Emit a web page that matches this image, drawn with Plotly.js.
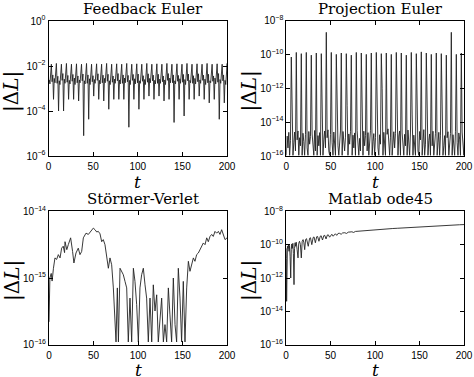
<!DOCTYPE html>
<html>
<head>
<meta charset="utf-8">
<script src="https://cdn.plot.ly/plotly-3.0.1.min.js"></script>
<style>html,body{margin:0;padding:0;background:#fff;}#chart{width:474px;height:377px;}</style>
</head>
<body>
<div id="chart"></div>
<script>
// ---- Data ----
const titles = ["Feedback Euler", "Projection Euler", "Störmer-Verlet", "Matlab ode45"];
const xTickVals = [0, 50, 100, 150, 200];
const xTickText = ["0", "50", "100", "150", "200"];
const yExp1 = [0, -2, -4, -6];
const yExp2 = [-8, -10, -12, -14, -16];
const yExp3 = [-14, -15, -16];
const yExp4 = [-8, -10, -12, -14, -16];

// Feedback Euler: uniform time samples (step 0.804)
const fbStep = 0.804;
const fbL = [
2.0e-3,2.4e-3,1.6e-3,4.5e-3,1.2e-2,2.0e-3,4.0e-3,
3.3e-4,2.8e-3,1.8e-3,5.0e-3,1.3e-2,1.7e-3,3.5e-3,
1.0e-4,2.2e-3,1.5e-3,4.0e-3,1.2e-2,2.3e-3,4.6e-3,
1.0e-4,2.6e-3,1.7e-3,4.8e-3,1.3e-2,1.9e-3,3.8e-3,
3.3e-4,2.3e-3,1.6e-3,4.4e-3,1.2e-2,2.1e-3,4.2e-3,
3.3e-4,2.9e-3,1.5e-3,5.1e-3,1.25e-2,1.8e-3,3.6e-3,
2.8e-4,2.4e-3,1.8e-3,4.2e-3,1.2e-2,2.2e-3,4.4e-3,
8.0e-6,2.2e-3,1.6e-3,4.7e-3,1.3e-2,1.7e-3,4.0e-3,
4.3e-5,2.7e-3,1.5e-3,4.5e-3,1.2e-2,2.0e-3,3.7e-3,
4.6e-4,2.5e-3,1.7e-3,5.2e-3,1.25e-2,2.3e-3,4.5e-3,
3.3e-4,2.3e-3,1.6e-3,4.1e-3,1.2e-2,1.8e-3,3.9e-3,
2.8e-4,2.8e-3,1.8e-3,4.9e-3,1.3e-2,2.1e-3,4.3e-3,
1.2e-4,2.2e-3,1.5e-3,4.3e-3,1.2e-2,1.9e-3,3.6e-3,
3.3e-4,2.6e-3,1.7e-3,4.6e-3,1.25e-2,2.2e-3,4.6e-3,
3.3e-4,2.4e-3,1.6e-3,5.0e-3,1.2e-2,1.7e-3,4.0e-3,
3.3e-4,2.9e-3,1.8e-3,4.4e-3,1.3e-2,2.0e-3,3.8e-3,
1.9e-5,2.3e-3,1.5e-3,4.8e-3,1.2e-2,2.3e-3,4.2e-3,
3.3e-4,2.7e-3,1.6e-3,4.2e-3,1.25e-2,1.8e-3,4.4e-3,
1.2e-4,2.2e-3,1.7e-3,4.5e-3,1.2e-2,2.1e-3,3.7e-3,
3.3e-4,2.5e-3,1.5e-3,5.1e-3,1.3e-2,1.9e-3,4.5e-3,
4.6e-4,2.8e-3,1.8e-3,4.0e-3,1.2e-2,2.2e-3,3.9e-3,
3.3e-4,2.3e-3,1.6e-3,4.7e-3,1.25e-2,1.7e-3,4.3e-3,
4.6e-4,2.6e-3,1.7e-3,4.4e-3,1.2e-2,2.0e-3,3.6e-3,
2.8e-4,2.4e-3,1.5e-3,4.9e-3,1.3e-2,2.3e-3,4.6e-3,
3.3e-4,2.9e-3,1.8e-3,4.3e-3,1.2e-2,1.8e-3,4.0e-3,
3.1e-5,2.2e-3,1.6e-3,4.6e-3,1.25e-2,2.1e-3,3.8e-3,
3.3e-4,2.7e-3,1.7e-3,5.0e-3,1.2e-2,1.9e-3,4.2e-3,
6.0e-5,2.5e-3,1.5e-3,4.2e-3,1.3e-2,2.2e-3,4.4e-3,
3.3e-4,2.3e-3,1.8e-3,4.8e-3,1.2e-2,1.7e-3,3.7e-3,
3.3e-4,2.8e-3,1.6e-3,4.5e-3,1.25e-2,2.0e-3,4.5e-3,
4.6e-4,2.4e-3,1.7e-3,4.1e-3,1.2e-2,2.3e-3,3.9e-3,
3.3e-4,2.6e-3,1.5e-3,4.9e-3,1.3e-2,1.8e-3,4.3e-3,
2.3e-4,2.2e-3,1.8e-3,4.4e-3,1.2e-2,2.1e-3,3.6e-3,
3.3e-4,2.9e-3,1.6e-3,4.7e-3,1.25e-2,1.9e-3,4.6e-3,
4.3e-5,2.5e-3,1.7e-3,5.2e-3,1.2e-2,2.2e-3,4.0e-3,
2.3e-4,2.3e-3,1.5e-3,4.3e-3,1.3e-2,1.7e-3,3.8e-3
];

// Projection Euler: uniform time samples (step 0.938)
const pjStep = 0.938;
const pjL = [
1.1e-16,1.5e-15,3e-16,2.5e-15,1.1e-16,8e-16,
7e-11,2e-15,1.1e-16,6e-16,2.6e-15,2e-16,
1.3e-10,9e-16,3e-15,1.1e-16,1.2e-15,4e-16,
1.1e-10,1.1e-16,2.2e-15,7e-16,1.1e-16,1.8e-15,
1.3e-10,3e-16,1.1e-16,2.8e-15,5e-16,1.4e-15,
9e-11,2e-15,6e-16,1.1e-16,3.2e-15,2e-16,
1.2e-10,1.1e-16,1.6e-15,4e-16,2.4e-15,1.1e-16,
1.1e-10,2.5e-15,1.1e-16,9e-16,3e-15,3e-16,
2e-9,1.2e-15,3.5e-15,2e-16,1.1e-16,1.9e-15,
1.3e-10,6e-16,1.1e-16,2.6e-15,8e-16,1.1e-16,
1e-10,2.2e-15,4e-16,1.1e-16,1.5e-15,3e-15,
1.2e-10,1.1e-16,2.8e-15,7e-16,2e-16,1.3e-15,
1.1e-10,1e-13,1.1e-16,2e-15,5e-16,2.7e-15,
9e-11,1.1e-16,1.7e-15,3e-16,2.3e-15,1.1e-16,
1.3e-10,3.1e-15,6e-16,1.1e-16,1.1e-15,2e-16,
1.2e-10,1.4e-15,1.1e-16,2.9e-15,4e-16,1.6e-15,
1e-10,2e-16,2.4e-15,1.1e-16,9e-16,3.3e-15,
1.2e-10,1.1e-16,7e-16,2.1e-15,1.1e-16,1.2e-15,
1.3e-10,2.6e-15,3e-16,1.1e-16,1.8e-15,5e-16,
1.1e-10,1e-12,1.1e-16,2.5e-15,6e-16,1.1e-16,
1.2e-10,1.9e-15,4e-15,2e-16,1.1e-16,1.3e-15,
1e-10,1.1e-16,8e-16,2.7e-15,3e-16,2.2e-15,
1.3e-10,5e-16,1.1e-16,1.5e-15,3e-15,1.1e-16,
1.2e-10,2.3e-15,7e-16,1.1e-16,1.9e-15,4e-16,
9e-11,1.1e-16,3.4e-15,1e-15,1.1e-16,2.6e-15,
1.3e-10,3e-14,1.1e-16,1.7e-15,6e-16,1.1e-16,
1.1e-10,2e-15,2e-16,1.1e-16,2.8e-15,9e-16,
1.4e-10,1.1e-16,1.4e-15,3.6e-15,1.1e-16,5e-16,
1.2e-10,2.4e-15,1.1e-16,8e-16,2e-15,1.1e-16,
1e-10,4e-16,2.9e-15,1.1e-16,1.3e-15,2.2e-15,
1.2e-10,1.1e-16,6e-16,2.5e-15,1.1e-16,1.7e-15,
1.1e-10,3.2e-15,1.1e-16,4e-16,1.6e-15,1.1e-16,
9e-11,1.2e-15,2.7e-15,1.1e-16,7e-16,2.1e-15,
2e-9,1.1e-16,1.8e-15,3e-16,1.1e-16,2.9e-15,
1e-10,6e-16,1.1e-16,2.3e-15,1e-15,1.1e-16,
1.2e-10,2.6e-15,4e-16,1.1e-16,1.9e-15,7e-16
];

// Störmer-Verlet
const svT = [0,0.4,1,2.5,3.5,5,6.7,8.6,10.5,12.4,14.2,16,17.5,18,20,21.7,24.3,26.5,28,30.3,32.9,34.8,36.7,38.6,41.6,44.2,46.8,49.8,51.7,53.6,55.4,57.3,59.2,61,62.9,64.8,66.7,68.5,70.4,72.3,74.2,75.3,76.8,78,79.8,81.6,83.5,85.4,87.3,89.1,91,92.9,94.8,96.6,98.5,100.4,102.2,104.1,106,107.9,109.7,111.6,113.5,115.4,117.2,119.1,121,122.8,124.7,126.6,128.5,130.3,132.2,134.1,135.9,137.8,139.7,141.6,143.4,145.3,147.2,149,150.9,152.8,154.7,156.6,158.4,160.3,162.2,164,165.9,167.8,169.7,171.5,173.4,175.3,177.2,179,180.9,182.8,184.6,186.5,188.4,190.3,192.1,194,195.9,197.8,200];
const svL = [2.2e-16,4e-16,1e-15,1.17e-15,9e-16,1.4e-15,2e-15,1.9e-15,2.24e-15,2e-15,2.8e-15,3e-15,2.4e-15,3.5e-15,2.66e-15,3.16e-15,4e-15,2.5e-15,1.68e-15,2.37e-15,2.8e-15,2.24e-15,2.5e-15,4e-15,4.7e-15,4.5e-15,5e-15,5.6e-15,5.3e-15,4.9e-15,5e-15,4.6e-15,3.5e-15,3.76e-15,3.16e-15,2.24e-15,1.4e-15,2e-15,1.58e-15,7.1e-16,1.8e-16,1.1e-16,7.1e-16,1.1e-16,1.4e-15,1.26e-15,1.12e-15,8.9e-16,7.1e-16,1.1e-16,5e-16,1.1e-16,1.4e-15,8.9e-16,4e-16,1.1e-16,7.1e-16,1.12e-15,1.4e-15,7.9e-16,5e-16,1.1e-16,5e-16,1.1e-16,7.9e-16,3.2e-16,5.6e-16,1.1e-16,2.8e-16,5e-16,1.1e-16,2e-16,1.1e-16,7.1e-16,2.8e-16,1.1e-16,1e-15,2e-16,1.1e-16,1.4e-15,5e-16,1.1e-16,8.9e-16,1.1e-16,7.1e-16,1.78e-15,1.26e-15,1.58e-15,2e-15,1.78e-15,2.24e-15,2.37e-15,2.66e-15,3e-15,3.35e-15,3.16e-15,4e-15,3.5e-15,4.2e-15,4.5e-15,4.2e-15,5e-15,4.7e-15,5e-15,4.5e-15,5.3e-15,4.5e-15,3.76e-15,4e-15];

// Matlab ode45
const odeT = [0,0.35,0.7,1.1,1.6,2.2,2.8,3.4,4.0,4.6,5.3,5.9,6.5,7.1,7.7,8.3,9.0,9.6,10.2,10.8,11.5,12.5,13.5,14.3,15.2,16.2,17.2,18.2,19.2,20.1,21,22,23,25,26.5,27.5,29,30.5,31.5,33,34.5,35.5,37,38.5,39.5,41,42.5,43.5,45,46.5,47.5,49,50.5,51.5,53,54.5,55.5,57,58.5,60,62,63.5,66,68,70,74,76,78,82,84,86,90,95,100,105,110,115,120,125,130,135,140,145,150,155,160,165,170,175,180,185,190,195,200];
const odeL = [6e-11,1.5e-11,4e-14,3e-11,8e-11,6e-11,1e-10,4e-11,9e-11,2e-11,1e-12,5e-11,1.1e-10,6e-11,1.2e-10,3e-11,4e-13,6e-11,1.3e-10,8e-11,1.4e-10,5e-11,1.6e-11,1.2e-10,1.6e-10,1e-10,1.6e-11,1.6e-10,2e-10,1.3e-10,5e-11,2e-10,2.3e-10,8e-11,2.4e-10,2.6e-10,1e-10,2.7e-10,2.9e-10,1.3e-10,3e-10,3.1e-10,1.6e-10,3.2e-10,3.4e-10,1.9e-10,3.5e-10,3.6e-10,2.2e-10,3.8e-10,3.9e-10,2.8e-10,4.1e-10,4.2e-10,3.2e-10,4.4e-10,4.5e-10,3.6e-10,4.7e-10,4.8e-10,4.2e-10,5e-10,5.2e-10,4.7e-10,5.6e-10,5.9e-10,5.4e-10,6.2e-10,6.5e-10,6.1e-10,6.8e-10,7.1e-10,7.5e-10,7.9e-10,8.2e-10,8.6e-10,8.9e-10,9.3e-10,9.6e-10,1e-9,1.03e-9,1.07e-9,1.1e-9,1.15e-9,1.19e-9,1.23e-9,1.28e-9,1.32e-9,1.37e-9,1.42e-9,1.47e-9,1.51e-9,1.56e-9,1.6e-9];

// ---- Layout helpers ----
const W = 474, H = 377;
const LINE = {color: '#222', width: 0.9};
const boxes = [
  {l: 48.5, r: 227, t: 21, b: 156},
  {l: 286.3, r: 464, t: 20.5, b: 156},
  {l: 49, r: 227, t: 211.3, b: 344.7},
  {l: 286, r: 464, t: 211.3, b: 344.7}
];
const tOffset = [14, 14, 13, 13];
const yExps = [yExp1, yExp2, yExp3, yExp4];
const tickFont = {family: 'Liberation Sans, Arial, sans-serif', size: 10, color: '#000'};
function supText(e){ return '10<sup>' + (e < 0 ? '\u2212' + (-e) : e) + '</sup>'; }

const traces = [
  {x0: 0, dx: fbStep, y: fbL},
  {x0: 0, dx: pjStep, y: pjL},
  {x: svT, y: svL},
  {x: odeT, y: odeL}
].map((d, i) => Object.assign({type: 'scatter', mode: 'lines', line: LINE, hoverinfo: 'skip',
  xaxis: i === 0 ? 'x' : 'x' + (i + 1), yaxis: i === 0 ? 'y' : 'y' + (i + 1)}, d));

const layout = {
  width: W, height: H,
  margin: {l: 0, r: 0, t: 0, b: 0},
  paper_bgcolor: '#fff', plot_bgcolor: '#fff',
  showlegend: false,
  annotations: []
};
boxes.forEach((b, i) => {
  const ex = yExps[i];
  const xa = {
    domain: [b.l / W, b.r / W], range: [0, 200], anchor: i === 0 ? 'y' : 'y' + (i + 1),
    tickmode: 'array', tickvals: xTickVals, ticktext: xTickText,
    ticks: 'inside', ticklen: 4, tickcolor: '#000', showline: true, linecolor: '#000', linewidth: 1,
    mirror: 'ticks', showgrid: false, zeroline: false, tickfont: tickFont, ticklabelstandoff: 1
  };
  const ya = {
    domain: [1 - b.b / H, 1 - b.t / H], type: 'log', range: [Math.min(...ex), Math.max(...ex)],
    anchor: i === 0 ? 'x' : 'x' + (i + 1),
    tickmode: 'array', tickvals: ex.map(e => Math.pow(10, e)), ticktext: ex.map(supText),
    ticks: 'inside', ticklen: 4, tickcolor: '#000', showline: true, linecolor: '#000', linewidth: 1,
    mirror: 'ticks', showgrid: false, zeroline: false, tickfont: tickFont
  };
  layout[i === 0 ? 'xaxis' : 'xaxis' + (i + 1)] = xa;
  layout[i === 0 ? 'yaxis' : 'yaxis' + (i + 1)] = ya;
  const cx = (b.l + b.r) / 2;
  layout.annotations.push({
    text: titles[i], xref: 'paper', yref: 'paper', x: (cx + 5) / W, y: 1 - (b.t - 12) / H,
    xanchor: 'center', yanchor: 'middle', showarrow: false,
    font: {family: 'DejaVu Serif, serif', size: 15, color: '#000'}
  });
  layout.annotations.push({
    text: '|\u0394<i>L</i>|', xref: 'paper', yref: 'paper', textangle: -90,
    x: (b.l - 37) / W, y: 1 - ((b.t + b.b) / 2 + 3) / H,
    xanchor: 'center', yanchor: 'middle', showarrow: false,
    font: {family: 'DejaVu Serif, serif', size: 20, color: '#000'}
  });
  layout.annotations.push({
    text: '<i>t</i>', xref: 'paper', yref: 'paper',
    x: cx / W, y: 1 - (b.b + tOffset[i]) / H,
    xanchor: 'center', yanchor: 'top', showarrow: false,
    font: {family: 'DejaVu Serif, serif', size: 17, color: '#000'}
  });
});

Plotly.newPlot('chart', traces, layout, {staticPlot: true, displayModeBar: false});
</script>
</body>
</html>
